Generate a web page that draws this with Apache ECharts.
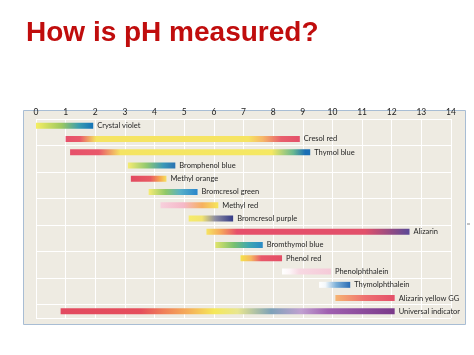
<!DOCTYPE html>
<html>
<head>
<meta charset="utf-8">
<script src="https://cdn.jsdelivr.net/npm/echarts@6/dist/echarts.min.js"></script>
<style>
html,body{margin:0;padding:0;background:#fff;}
#chart{width:474px;height:355px;}
</style>
</head>
<body>
<div id="chart"></div>
<script>
// ---- data ----
const indicators = ['Crystal violet','Cresol red','Thymol blue','Bromphenol blue','Methyl orange',
  'Bromcresol green','Methyl red','Bromcresol purple','Alizarin','Bromthymol blue','Phenol red',
  'Phenolphthalein','Thymolphthalein','Alizarin yellow GG','Universal indicator'];
const startPH = [0.0, 1.0, 1.15, 3.1, 3.2, 3.8, 4.2, 5.15, 5.75, 6.05, 6.9, 8.3, 9.55, 10.1, 0.83];
const endPH   = [1.93, 8.9, 9.25, 4.7, 4.4, 5.45, 6.15, 6.65, 12.6, 7.65, 8.3, 9.95, 10.6, 12.1, 12.1];
const phTicks = [0,1,2,3,4,5,6,7,8,9,10,11,12,13,14];

// ---- styles (colour gradients along each bar) ----
const barGradients = [
  [[0,'#f6ee62'],[0.45,'#9cc860'],[0.75,'#3a9db0'],[1,'#1474b8']],
  [[0,'#e6506a'],[0.06,'#e9586a'],[0.13,'#f5e462'],[0.78,'#f6e462'],[0.84,'#f6b868'],[0.92,'#e8606c'],[1,'#e4506a']],
  [[0,'#e6506a'],[0.12,'#e9586a'],[0.21,'#f5e462'],[0.84,'#f5e862'],[0.93,'#68b890'],[0.98,'#1a6eb5'],[1,'#1a6eb5']],
  [[0,'#f6ec70'],[0.4,'#90c870'],[0.75,'#3a98b8'],[1,'#2a72b2']],
  [[0,'#e24a60'],[0.55,'#e85a62'],[0.82,'#f6a850'],[1,'#f6e060']],
  [[0,'#f6ec74'],[0.35,'#90c868'],[0.65,'#58b0c8'],[1,'#2a86cc']],
  [[0,'#f7d0dc'],[0.4,'#f5b8c8'],[0.72,'#f6b060'],[1,'#f6e65a']],
  [[0,'#f6ec6a'],[0.3,'#f2e470'],[0.6,'#8c8ca2'],[1,'#343a88']],
  [[0,'#f6e462'],[0.07,'#f6a85a'],[0.15,'#e6506a'],[0.78,'#e2506a'],[1,'#5a4896']],
  [[0,'#e0e46a'],[0.4,'#78c070'],[0.7,'#40a8b0'],[1,'#2a8ac6']],
  [[0,'#f6e24a'],[0.25,'#f6b860'],[0.5,'#e8586a'],[1,'#e44e66']],
  [[0,'#ffffff'],[0.15,'#fdf6f8'],[0.35,'#f7d8e2'],[1,'#f5cad8']],
  [[0,'#ffffff'],[0.2,'#f4f8fb'],[0.55,'#7cb0d8'],[1,'#2a6cb4']],
  [[0,'#f6b472'],[0.5,'#ee7070'],[1,'#e4506a']],
  [[0,'#e24a60'],[0.24,'#e54e5c'],[0.31,'#f08058'],[0.39,'#f5b45a'],[0.46,'#f5e85a'],[0.53,'#e8e690'],
   [0.63,'#7ea2b8'],[0.72,'#c0a0d0'],[0.8,'#a060b0'],[1,'#7a3a8a']]
];

function grad(stops){
  return {type:'linear',x:0,y:0,x2:1,y2:0,
    colorStops: stops.map(s=>({offset:s[0],color:s[1]}))};
}

const chart = echarts.init(document.getElementById('chart'), null, {renderer:'canvas'});
const FONT = 'Lato, "Liberation Sans", sans-serif';

chart.setOption({
  animation:false,
  backgroundColor:'#ffffff',
  graphic:[
    {type:'text', left:26, top:19, z:10,
      style:{text:'How is pH measured?', fill:'#c00d0d',
        font:'bold 28px "Liberation Sans", Arial, sans-serif'}},
    {type:'rect', shape:{x:23.5,y:110.5,width:442,height:214}, z:-10,
      style:{fill:'#eeebe2', stroke:'#a8bdd4', lineWidth:1}},
    {type:'line', shape:{x1:467,y1:224,x2:470,y2:224}, z:-10,
      style:{stroke:'#888', lineWidth:1}}
  ],
  grid:{left:36, width:415, top:119, bottom:37, containLabel:false},
  xAxis:{
    type:'value', position:'top', min:0, max:14, interval:1,
    axisLine:{show:false}, axisTick:{show:false},
    axisLabel:{show:true, fontSize:8.5, color:'#1e1e1e', margin:2, fontFamily:FONT,
      formatter:(v)=> phTicks.includes(v) ? String(v) : ''},
    splitLine:{show:true, lineStyle:{color:'#ffffff', width:1}}
  },
  yAxis:{
    type:'category', inverse:true, data:indicators,
    axisLine:{show:false}, axisTick:{show:false}, axisLabel:{show:false},
    splitLine:{show:true, lineStyle:{color:'#ffffff', width:1}}
  },
  series:[
    {type:'bar', stack:'ph', barWidth:6, silent:true,
      itemStyle:{color:'rgba(0,0,0,0)'},
      data:startPH},
    {type:'bar', stack:'ph', barWidth:6,
      data:endPH.map((e,i)=>({value:+(e-startPH[i]).toFixed(3),
        itemStyle:{color:grad(barGradients[i])}})),
      label:{show:true, position:'right', distance:4, fontSize:7.5, color:'#262626',
        fontFamily:FONT, formatter:(p)=>indicators[p.dataIndex]}}
  ]
});
</script>
</body>
</html>
